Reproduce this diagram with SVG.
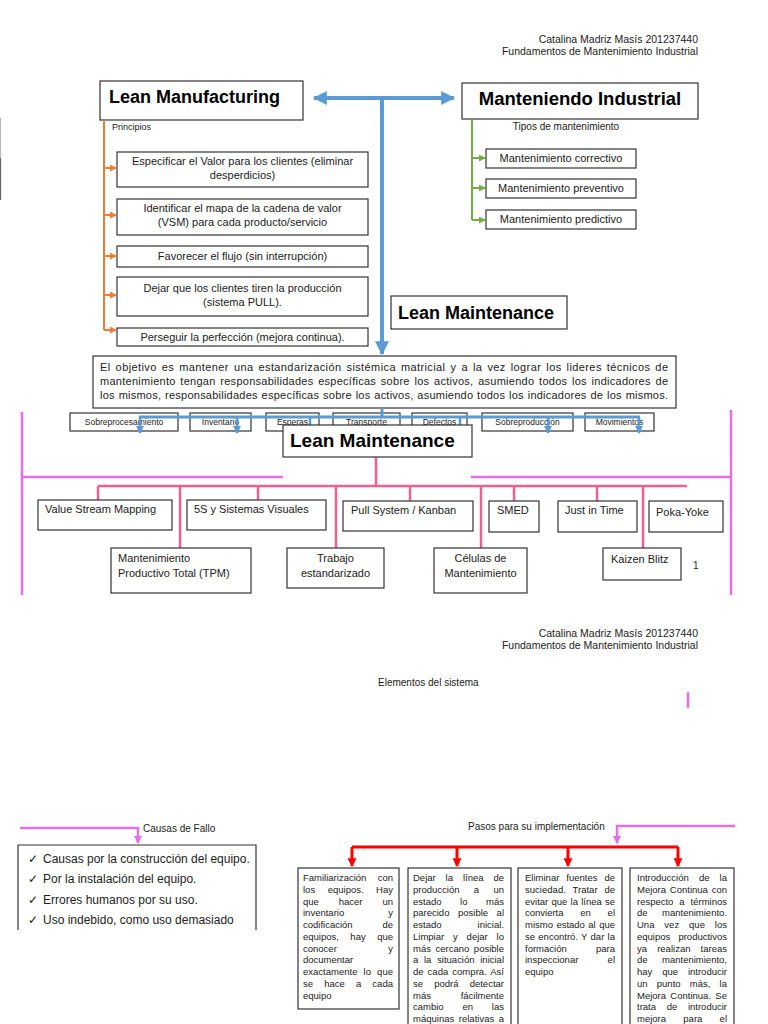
<svg xmlns="http://www.w3.org/2000/svg" width="768" height="1024" viewBox="0 0 768 1024">
<defs>
<style>
text{font-family:"Liberation Sans",Arial,sans-serif;fill:#222}
.box{fill:#fff;stroke:#333;stroke-width:1.2}
.ttl{font-weight:bold;font-size:18px;fill:#000}
.hdr{font-size:10.5px;text-anchor:end}
.s11{font-size:11px}
.s10{font-size:10px}
.s9{font-size:9.5px}
.lab{font-size:8.5px;text-anchor:middle}
.mid{text-anchor:middle}
.blue{stroke:#5B9BD5;fill:none}
.orange{stroke:#ED7D31;stroke-width:2;fill:none}
.green{stroke:#70AD47;stroke-width:2;fill:none}
.rose{stroke:#F0608E;stroke-width:2.5;fill:none}
.violet{stroke:#E46EE6;stroke-width:2.5;fill:none}
.red{stroke:#F00;stroke-width:3;fill:none}
</style>
<marker id="mb" markerUnits="userSpaceOnUse" markerWidth="14" markerHeight="14" viewBox="0 0 12 12" refX="11" refY="6" orient="auto-start-reverse"><path d="M0,0 L12,6 L0,12 z" fill="#5B9BD5"/></marker>
<marker id="mbs" markerUnits="userSpaceOnUse" markerWidth="8" markerHeight="8" viewBox="0 0 8 8" refX="7" refY="4" orient="auto"><path d="M0,0 L8,4 L0,8 z" fill="#5B9BD5"/></marker>
<marker id="mo" markerUnits="userSpaceOnUse" markerWidth="7" markerHeight="7" viewBox="0 0 8 8" refX="7" refY="4" orient="auto"><path d="M0,0 L8,4 L0,8 z" fill="#ED7D31"/></marker>
<marker id="mg" markerUnits="userSpaceOnUse" markerWidth="7" markerHeight="7" viewBox="0 0 8 8" refX="7" refY="4" orient="auto"><path d="M0,0 L8,4 L0,8 z" fill="#70AD47"/></marker>
<marker id="mr" markerUnits="userSpaceOnUse" markerWidth="9" markerHeight="9" viewBox="0 0 8 8" refX="7" refY="4" orient="auto"><path d="M0,0 L8,4 L0,8 z" fill="#F00"/></marker>
<marker id="mv" markerUnits="userSpaceOnUse" markerWidth="8" markerHeight="8" viewBox="0 0 8 8" refX="7" refY="4" orient="auto"><path d="M0,0 L8,4 L0,8 z" fill="#E46EE6"/></marker>
</defs>
<rect width="768" height="1024" fill="#fff"/>

<g id="header1">
<text class="hdr" x="698" y="43">Catalina Madriz Masís 201237440</text>
<text class="hdr" x="698" y="55">Fundamentos de Mantenimiento Industrial</text>
</g>
<line x1="0.5" y1="118" x2="0.5" y2="158" stroke="#bbb" stroke-width="1.2"/>
<line x1="0.5" y1="158" x2="0.5" y2="200" stroke="#666" stroke-width="1.2"/>

<g id="lean-manufacturing">
<rect class="box" x="100" y="81" width="203" height="39"/>
<text class="ttl" x="109" y="103">Lean Manufacturing</text>
<text class="s10" x="112" y="130" style="font-size:9px">Principios</text>
</g>
<g id="p1"><rect class="box" x="117" y="152" width="251" height="35"/>
<text class="s11 mid" x="242.5" y="165">Especificar el Valor para los clientes (eliminar</text>
<text class="s11 mid" x="242.5" y="179">desperdicios)</text></g>
<g id="p2"><rect class="box" x="117" y="199" width="251" height="36"/>
<text class="s11 mid" x="242.5" y="212">Identificar el mapa de la cadena de valor</text>
<text class="s11 mid" x="242.5" y="226">(VSM) para cada producto/servicio</text></g>
<g id="p3"><rect class="box" x="117" y="246" width="251" height="21"/>
<text class="s11 mid" x="242.5" y="260">Favorecer el flujo (sin interrupción)</text></g>
<g id="p4"><rect class="box" x="117" y="277" width="251" height="39"/>
<text class="s11 mid" x="242.5" y="292">Dejar que los clientes tiren la producción</text>
<text class="s11 mid" x="242.5" y="306">(sistema PULL).</text></g>
<g id="p5"><rect class="box" x="117" y="328" width="251" height="18"/>
<text class="s11 mid" x="242.5" y="341">Perseguir la perfección (mejora continua).</text></g>

<g id="manteniendo-industrial">
<rect class="box" x="462" y="83" width="236" height="36"/>
<text class="ttl" x="580" y="105" text-anchor="middle" style="font-size:18.5px">Manteniendo Industrial</text>
<text class="s10 mid" x="566" y="130">Tipos de mantenimiento</text>
</g>
<g id="m1"><rect class="box" x="486" y="149" width="150" height="19"/>
<text class="s11 mid" x="561" y="162">Mantenimiento correctivo</text></g>
<g id="m2"><rect class="box" x="486" y="179" width="150" height="19"/>
<text class="s11 mid" x="561" y="192">Mantenimiento preventivo</text></g>
<g id="m3"><rect class="box" x="486" y="210" width="150" height="19"/>
<text class="s11 mid" x="561" y="223">Mantenimiento predictivo</text></g>

<g id="lean-maintenance-top">
<rect class="box" x="391" y="296" width="176" height="33"/>
<text class="ttl" x="398" y="319">Lean Maintenance</text>
</g>

<g id="objetivo">
<rect class="box" x="93" y="356" width="583" height="52"/>
<text class="s11" x="100" y="371" word-spacing="1.6" textLength="568" lengthAdjust="spacing">El objetivo es mantener una estandarización sistémica matricial y a la vez lograr los lideres técnicos de</text>
<text class="s11" x="100" y="385" word-spacing="1.4" textLength="568" lengthAdjust="spacing">mantenimiento tengan responsabilidades específicas sobre los activos, asumiendo todos los indicadores de</text>
<text class="s11" x="100" y="399" word-spacing="0.6" textLength="568" lengthAdjust="spacing">los mismos, responsabilidades específicas sobre los activos, asumiendo todos los indicadores de los mismos.</text>
</g>

<g id="desperdicios">
<rect class="box" x="70" y="413" width="108" height="18"/><text class="lab" x="124" y="425">Sobreprocesamiento</text>
<rect class="box" x="190" y="413" width="61" height="18"/><text class="lab" x="220.5" y="425">Inventario</text>
<rect class="box" x="266" y="413" width="53" height="18"/><text class="lab" x="292.5" y="425">Esperas</text>
<rect class="box" x="333" y="413" width="67" height="18"/><text class="lab" x="366.5" y="425">Transporte</text>
<rect class="box" x="412" y="413" width="55" height="18"/><text class="lab" x="439.5" y="425">Defectos</text>
<rect class="box" x="482" y="413" width="91" height="18"/><text class="lab" x="527.5" y="425">Sobreproducción</text>
<rect class="box" x="585" y="413" width="69" height="18"/><text class="lab" x="619.5" y="425">Movimientos</text>
</g>

<g id="connectors">
<path class="blue" stroke-width="4" d="M314,98 H454" marker-start="url(#mb)" marker-end="url(#mb)"/>
<path class="blue" stroke-width="4" d="M382,98 V354" marker-end="url(#mb)"/>
<path class="blue" stroke-width="3" d="M382,408 V417"/>
<path class="blue" stroke-width="3" d="M139,417 H640"/>
<path class="blue" stroke-width="2.5" d="M140,417 V433" marker-end="url(#mbs)"/>
<path class="blue" stroke-width="2.5" d="M237,417 V433" marker-end="url(#mbs)"/>
<path class="blue" stroke-width="2.5" d="M310,417 V433" marker-end="url(#mbs)"/>
<path class="blue" stroke-width="2.5" d="M460,417 V433" marker-end="url(#mbs)"/>
<path class="blue" stroke-width="2.5" d="M548,417 V433" marker-end="url(#mbs)"/>
<path class="blue" stroke-width="2.5" d="M639,417 V433" marker-end="url(#mbs)"/>
<path class="orange" d="M104,120 V330"/>
<path class="orange" d="M104,168 H116" marker-end="url(#mo)"/>
<path class="orange" d="M104,215 H116" marker-end="url(#mo)"/>
<path class="orange" d="M104,256 H116" marker-end="url(#mo)"/>
<path class="orange" d="M104,295 H116" marker-end="url(#mo)"/>
<path class="orange" d="M104,330 H116" marker-end="url(#mo)"/>
<path class="green" d="M472,119 V220"/>
<path class="green" d="M472,158 H485" marker-end="url(#mg)"/>
<path class="green" d="M472,188 H485" marker-end="url(#mg)"/>
<path class="green" d="M472,220 H485" marker-end="url(#mg)"/>
<path class="violet" d="M22,412 V595 M731,410 V595 M22,477 H283 M471,477 H732"/>
<path class="rose" d="M376,457 V486 M98,486 H687 M98,486 V500 M180,486 V548 M258,486 V500 M336,486 V548 M410,486 V501 M481,486 V548 M514,486 V501 M597,486 V501 M643,486 V549"/>
<path class="violet" d="M688,692 V708"/>
<path class="violet" d="M20,828 H138 V843" marker-end="url(#mv)"/>
<path class="violet" d="M735,826 H617 V843" marker-end="url(#mv)"/>
<path class="red" d="M352,847 H678"/>
<path class="red" d="M352,847 V866" marker-end="url(#mr)"/>
<path class="red" d="M457,847 V866" marker-end="url(#mr)"/>
<path class="red" d="M568,847 V866" marker-end="url(#mr)"/>
<path class="red" d="M678,847 V866" marker-end="url(#mr)"/>
</g>

<g id="lean-maintenance">
<rect class="box" x="283" y="425" width="189" height="32"/>
<text class="ttl" x="290" y="447" style="font-size:19px">Lean Maintenance</text>
</g>

<g id="t-vsm"><rect class="box" x="38" y="500" width="134" height="30"/><text class="s11" x="45" y="513">Value Stream Mapping</text></g>
<g id="t-5s"><rect class="box" x="187" y="500" width="139" height="30"/><text class="s11" x="194" y="513">5S y Sistemas Visuales</text></g>
<g id="t-pull"><rect class="box" x="343" y="501" width="130" height="30"/><text class="s11" x="351" y="514">Pull System / Kanban</text></g>
<g id="t-smed"><rect class="box" x="489" y="501" width="50" height="31"/><text class="s11" x="497" y="514">SMED</text></g>
<g id="t-jit"><rect class="box" x="558" y="501" width="79" height="31"/><text class="s11" x="565" y="514">Just in Time</text></g>
<g id="t-poka"><rect class="box" x="649" y="501" width="74" height="31"/><text class="s11" x="656" y="516">Poka-Yoke</text></g>
<g id="t-tpm"><rect class="box" x="111" y="548" width="140" height="45"/><text class="s11" x="118" y="562">Mantenimiento</text><text class="s11" x="118" y="577">Productivo Total (TPM)</text></g>
<g id="t-trabajo"><rect class="box" x="287" y="548" width="97" height="40"/><text class="s11 mid" x="335.5" y="562">Trabajo</text><text class="s11 mid" x="335.5" y="577">estandarizado</text></g>
<g id="t-celulas"><rect class="box" x="434" y="548" width="93" height="45"/><text class="s11 mid" x="480.5" y="562">Células de</text><text class="s11 mid" x="480.5" y="577">Mantenimiento</text></g>
<g id="t-kaizen"><rect class="box" x="603" y="548" width="78" height="32"/><text class="s11" x="611" y="563">Kaizen Blitz</text></g>
<text class="s10" x="693" y="569">1</text>

<g id="header2">
<text class="hdr" x="698" y="637">Catalina Madriz Masís 201237440</text>
<text class="hdr" x="698" y="649">Fundamentos de Mantenimiento Industrial</text>
<text class="s10" x="378" y="686">Elementos del sistema</text>
</g>

<g id="causas">
<text class="s10" x="143" y="832">Causas de Fallo</text>
<path d="M18,930 V845 H256 V930" fill="#fff" stroke="#333" stroke-width="1.2"/>
<text style="font-size:12px" x="28" y="863">✓</text><text style="font-size:12px" x="43" y="863">Causas por la construcción del equipo.</text>
<text style="font-size:12px" x="28" y="883">✓</text><text style="font-size:12px" x="43" y="883">Por la instalación del equipo.</text>
<text style="font-size:12px" x="28" y="904">✓</text><text style="font-size:12px" x="43" y="904">Errores humanos por su uso.</text>
<text style="font-size:12px" x="28" y="924">✓</text><text style="font-size:12px" x="43" y="924">Uso indebido, como uso demasiado</text>
</g>

<g id="pasos">
<text class="s10" x="468" y="830">Pasos para su implementación</text>
</g>

<g id="paso1">
<rect class="box" x="298" y="868" width="101" height="141"/>
<text class="s9" x="303" y="881" word-spacing="8.7" textLength="90" lengthAdjust="spacing">Familiarización con</text>
<text class="s9" x="303" y="893" word-spacing="9.9" textLength="90" lengthAdjust="spacing">los equipos. Hay</text>
<text class="s9" x="303" y="904.5" word-spacing="17.3" textLength="90" lengthAdjust="spacing">que hacer un</text>
<text class="s9" x="303" y="916" word-spacing="41.4" textLength="90" lengthAdjust="spacing">inventario y</text>
<text class="s9" x="303" y="928" word-spacing="27.2" textLength="90" lengthAdjust="spacing">codificación de</text>
<text class="s9" x="303" y="940" word-spacing="8.8" textLength="90" lengthAdjust="spacing">equipos, hay que</text>
<text class="s9" x="303" y="951.5" word-spacing="48.8" textLength="90" lengthAdjust="spacing">conocer y</text>
<text class="s9" x="303" y="963">documentar</text>
<text class="s9" x="303" y="975" word-spacing="3.5" textLength="90" lengthAdjust="spacing">exactamente lo que</text>
<text class="s9" x="303" y="987" word-spacing="8.5" textLength="90" lengthAdjust="spacing">se hace a cada</text>
<text class="s9" x="303" y="998.5">equipo</text>
</g>
<g id="paso2">
<rect class="box" x="408" y="868" width="103" height="170"/>
<text class="s9" x="413" y="881" word-spacing="7.3" textLength="91" lengthAdjust="spacing">Dejar la línea de</text>
<text class="s9" x="413" y="893" word-spacing="11.7" textLength="91" lengthAdjust="spacing">producción a un</text>
<text class="s9" x="413" y="904.5" word-spacing="15.9" textLength="91" lengthAdjust="spacing">estado lo más</text>
<text class="s9" x="413" y="916" word-spacing="5.9" textLength="91" lengthAdjust="spacing">parecido posible al</text>
<text class="s9" x="413" y="928" word-spacing="33.4" textLength="91" lengthAdjust="spacing">estado inicial.</text>
<text class="s9" x="413" y="940" word-spacing="6.2" textLength="91" lengthAdjust="spacing">Limpiar y dejar lo</text>
<text class="s9" x="413" y="951.5" word-spacing="1.9" textLength="91" lengthAdjust="spacing">más cercano posible</text>
<text class="s9" x="413" y="963" word-spacing="3.1" textLength="91" lengthAdjust="spacing">a la situación inicial</text>
<text class="s9" x="413" y="975" word-spacing="1.3" textLength="91" lengthAdjust="spacing">de cada compra. Así</text>
<text class="s9" x="413" y="987" word-spacing="8.5" textLength="91" lengthAdjust="spacing">se podrá detectar</text>
<text class="s9" x="413" y="998.5" word-spacing="27.1" textLength="91" lengthAdjust="spacing">más fácilmente</text>
<text class="s9" x="413" y="1010" word-spacing="16.2" textLength="91" lengthAdjust="spacing">cambio en las</text>
<text class="s9" x="413" y="1021.5" word-spacing="1.9" textLength="91" lengthAdjust="spacing">máquinas relativas a</text>
</g>
<g id="paso3">
<rect class="box" x="518" y="868" width="104" height="170"/>
<text class="s9" x="525" y="881" word-spacing="4.3" textLength="90" lengthAdjust="spacing">Eliminar fuentes de</text>
<text class="s9" x="525" y="893" word-spacing="4.1" textLength="90" lengthAdjust="spacing">suciedad. Tratar de</text>
<text class="s9" x="525" y="904.5" word-spacing="0.6" textLength="90" lengthAdjust="spacing">evitar que la línea se</text>
<text class="s9" x="525" y="916" word-spacing="14.1" textLength="90" lengthAdjust="spacing">convierta en el</text>
<text class="s9" x="525" y="928" word-spacing="0.8" textLength="90" lengthAdjust="spacing">mismo estado al que</text>
<text class="s9" x="525" y="940" word-spacing="0.6" textLength="90" lengthAdjust="spacing">se encontró. Y dar la</text>
<text class="s9" x="525" y="951.5" word-spacing="26.6" textLength="90" lengthAdjust="spacing">formación para</text>
<text class="s9" x="525" y="963" word-spacing="26.6" textLength="90" lengthAdjust="spacing">inspeccionar el</text>
<text class="s9" x="525" y="975">equipo</text>
</g>
<g id="paso4">
<rect class="box" x="630" y="868" width="104" height="170"/>
<text class="s9" x="637" y="881" word-spacing="7.5" textLength="90" lengthAdjust="spacing">Introducción de la</text>
<text class="s9" x="637" y="893" word-spacing="1.2" textLength="90" lengthAdjust="spacing">Mejora Continua con</text>
<text class="s9" x="637" y="904.5" word-spacing="3.3" textLength="90" lengthAdjust="spacing">respecto a términos</text>
<text class="s9" x="637" y="916" word-spacing="11.8" textLength="90" lengthAdjust="spacing">de mantenimiento.</text>
<text class="s9" x="637" y="928" word-spacing="7.3" textLength="90" lengthAdjust="spacing">Una vez que los</text>
<text class="s9" x="637" y="940" word-spacing="5.5" textLength="90" lengthAdjust="spacing">equipos productivos</text>
<text class="s9" x="637" y="951.5" word-spacing="7.5" textLength="90" lengthAdjust="spacing">ya realizan tareas</text>
<text class="s9" x="637" y="963" word-spacing="11.8" textLength="90" lengthAdjust="spacing">de mantenimiento,</text>
<text class="s9" x="637" y="975" word-spacing="7.2" textLength="90" lengthAdjust="spacing">hay que introducir</text>
<text class="s9" x="637" y="987" word-spacing="6.6" textLength="90" lengthAdjust="spacing">un punto más, la</text>
<text class="s9" x="637" y="998.5" word-spacing="1.7" textLength="90" lengthAdjust="spacing">Mejora Continua. Se</text>
<text class="s9" x="637" y="1010" word-spacing="8.0" textLength="90" lengthAdjust="spacing">trata de introducir</text>
<text class="s9" x="637" y="1021.5" word-spacing="14.6" textLength="90" lengthAdjust="spacing">mejora para el</text>
</g>
</svg>
